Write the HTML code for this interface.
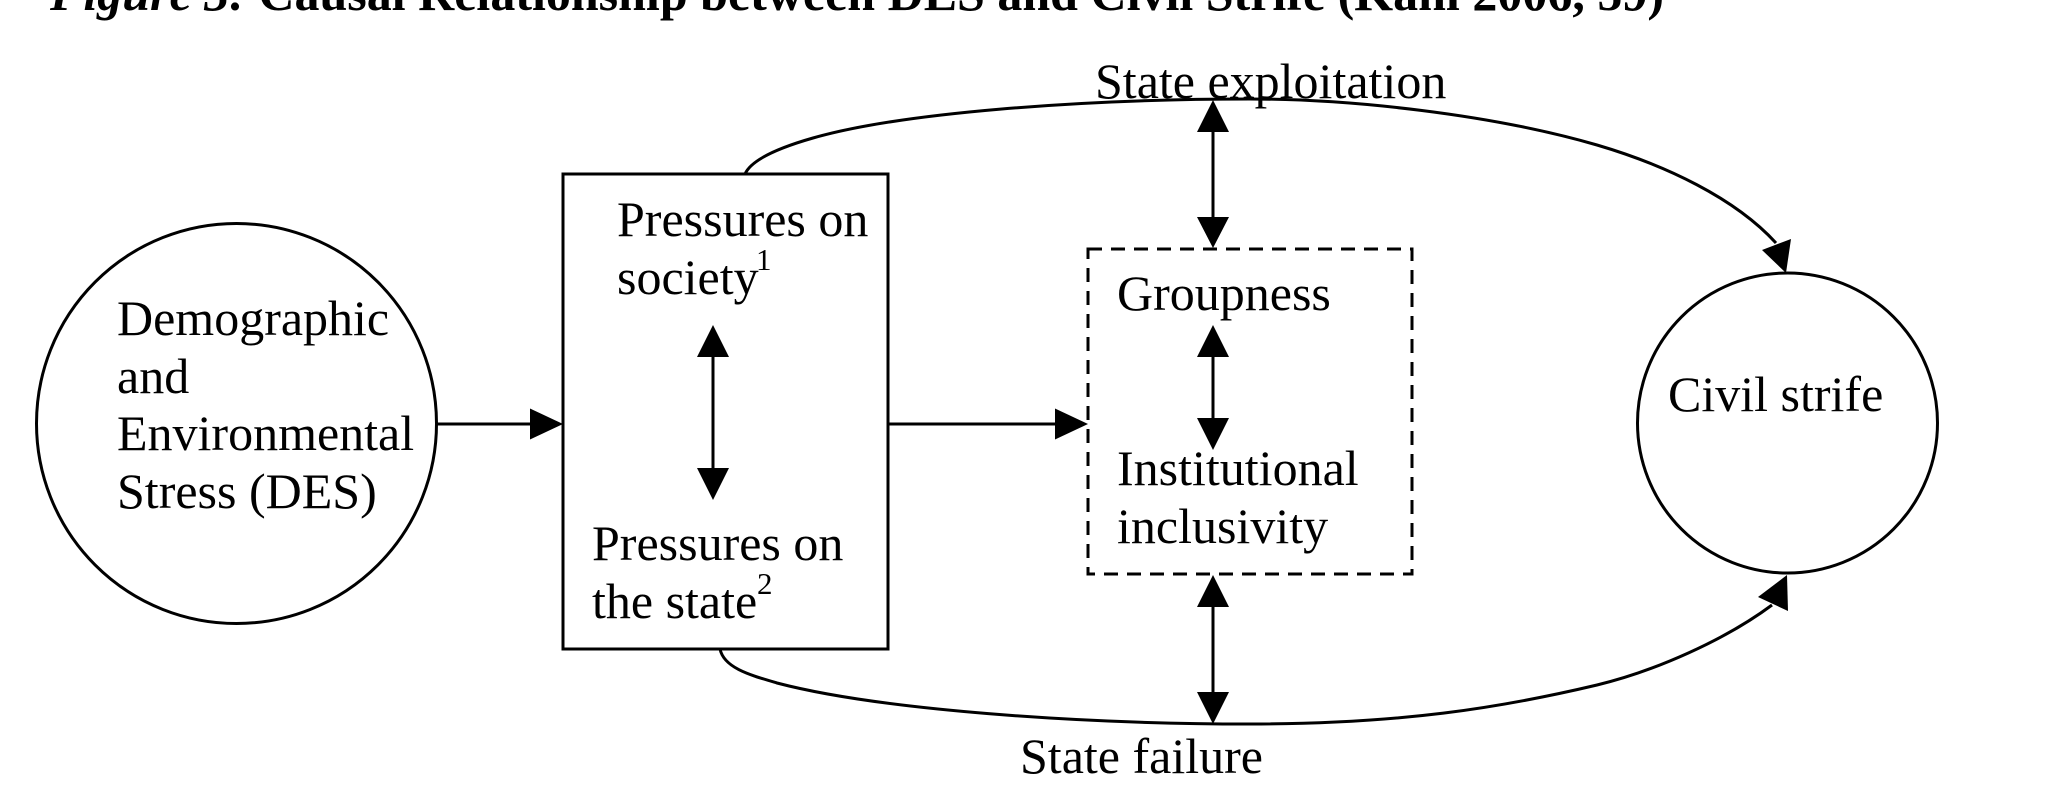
<!DOCTYPE html>
<html>
<head>
<meta charset="utf-8">
<style>
html,body{margin:0;padding:0;background:#fff;width:2060px;height:809px;overflow:hidden}
svg{display:block}
text{font-family:"Liberation Serif",serif;font-size:50px;fill:#000}
.sup{font-size:31px}
.t{font-weight:bold}
</style>
</head>
<body>
<svg width="2060" height="809" viewBox="0 0 2060 809" xmlns="http://www.w3.org/2000/svg">
<rect width="2060" height="809" fill="#fff"/>
<text class="t" x="50" y="10"><tspan font-style="italic">Figure 3:</tspan> Causal Relationship between DES and Civil Strife (Kahl 2006, 59)</text>

<g fill="none" stroke="#000" stroke-width="3">
<circle cx="236.500" cy="423.500" r="200"/>
<rect x="563" y="174" width="325" height="475"/>
<rect x="1088" y="249" width="324" height="325" stroke-dasharray="14 9"/>
<circle cx="1787.500" cy="423" r="150"/>
<path d="M745,174 C752,158 785,146 813,138 C900,113 1080,99 1250,99 C1350,99 1490,114 1597,145 C1665,165 1735,198 1776,243"/>
<path d="M720,649 C724,668 750,675 777,683 C880,710 1080,724 1250,724 C1400,724 1500,708 1597,685 C1655,671 1725,640 1772,605"/>
<path d="M437,424H535"/>
<path d="M888,424H1060"/>
<path d="M713,350V475"/>
<path d="M1213,125V225"/>
<path d="M1213,350V425"/>
<path d="M1213,600V700"/>
</g>

<g fill="#000">
<polygon points="563,424 530,408.500 530,439.500"/>
<polygon points="1088,424 1055,408.500 1055,439.500"/>
<polygon points="713,325 697,357 729,357"/>
<polygon points="713,500 697,468 729,468"/>
<polygon points="1213,100 1197,132 1229,132"/>
<polygon points="1213,248 1197,217 1229,217"/>
<polygon points="1213,325 1197,357 1229,357"/>
<polygon points="1213,450 1197,418 1229,418"/>
<polygon points="1213,575 1197,607 1229,607"/>
<polygon points="1213,724 1197,692 1229,692"/>
<polygon points="1786,273 1791,239 1762,250"/>
<polygon points="1787,575 1758,597 1788,611"/>
</g>

<text x="117" y="335">Demographic</text>
<text x="117" y="393">and</text>
<text x="117" y="450">Environmental</text>
<text x="117" y="508">Stress (DES)</text>

<text x="617" y="236">Pressures on</text>
<text x="617" y="294">society</text>
<text class="sup" x="756" y="270">1</text>
<text x="592" y="560">Pressures on</text>
<text x="592" y="618">the state</text>
<text class="sup" x="757" y="594">2</text>

<text x="1095" y="98">State exploitation</text>
<text x="1117" y="310">Groupness</text>
<text x="1117" y="485">Institutional</text>
<text x="1117" y="543">inclusivity</text>
<text x="1668" y="411">Civil strife</text>
<text x="1020" y="773">State failure</text>
</svg>
</body>
</html>
